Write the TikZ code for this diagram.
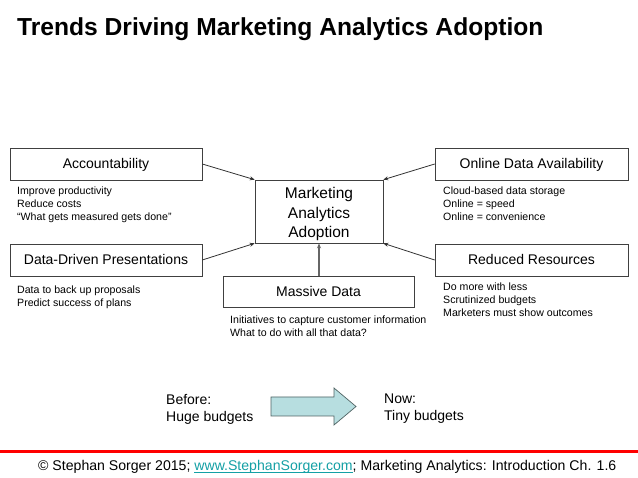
\documentclass[tikz,border=0pt]{standalone}
\usepackage{fontspec}
\setmainfont{Liberation Sans}
\usetikzlibrary{arrows.meta}
\definecolor{linkc}{RGB}{20,160,165}
\definecolor{arrfill}{RGB}{183,222,224}
\definecolor{arrdraw}{RGB}{80,100,100}
\newlength{\myulw}
\newcommand{\myul}[1]{\settowidth{\myulw}{#1}\rlap{\rule[-2pt]{\myulw}{0.7pt}}#1}
\tikzset{
  tbox/.style={draw=black!75, line width=0.6pt, inner sep=0pt, font=\fontsize{14}{16}\selectfont},
  note/.style={anchor=north west, inner sep=0pt, align=left, font=\fontsize{10.6}{13}\selectfont},
  conn/.style={draw=black!80, line width=0.8pt, -{Stealth[length=5pt,width=4pt]}},
}
\begin{document}
\begin{tikzpicture}[x=1pt,y=-1pt]
\useasboundingbox[fill=white] (0,0) rectangle (638,478);
\node[anchor=west, inner sep=0pt, font=\fontsize{24.6}{28}\selectfont\bfseries] (title) at (17,29) {Trends Driving Marketing Analytics Adoption};
% boxes
\node[tbox, minimum width=192pt, minimum height=32pt, text depth=1pt] (acc) at (106,164) {Accountability};
\node[tbox, minimum width=193pt, minimum height=32pt, text depth=1pt] (oda) at (531.5,164) {Online Data Availability};
\node[tbox, minimum width=192pt, minimum height=32pt, text depth=1pt] (ddp) at (106,260) {Data-Driven Presentations};
\node[tbox, minimum width=193pt, minimum height=32pt, text depth=1pt] (rr) at (531.5,260) {Reduced Resources};
\node[tbox, minimum width=128pt, minimum height=63pt] (maa) at (319,211.5) {};
\node[inner sep=0pt, align=center, font=\fontsize{15.5}{19.5}\selectfont] (maat) at ([yshift=-2.5pt]maa.center) {Marketing\\Analytics\\Adoption};
\node[tbox, minimum width=191pt, minimum height=31pt, text depth=1pt] (md) at (318.5,292) {Massive Data};
% connectors
\draw[conn] (acc.east) -- (maa.north west);
\draw[conn] (ddp.east) -- (maa.south west);
\draw[conn] (oda.west) -- (maa.north east);
\draw[conn] (rr.west) -- (maa.south east);
\draw[conn, draw=black!60, line width=1.3pt] (md.north -| maa.south) -- (maa.south);
% notes
\node[note] (n1) at (17,186.5) {Improve productivity\\Reduce costs\\“What gets measured gets done”};
\node[note] (n2) at (17,285.5) {Data to back up proposals\\Predict success of plans};
\node[note] (n3) at (443,186.5) {Cloud-based data storage\\Online = speed\\Online = convenience};
\node[note] (n4) at (443,282.5) {Do more with less\\Scrutinized budgets\\Marketers must show outcomes};
\node[note] (n5) at (230,315.5) {Initiatives to capture customer information\\What to do with all that data?};
% before / now
\node[anchor=north west, inner sep=0pt, align=left, font=\fontsize{14}{17}\selectfont] (bef) at (166,394) {Before:\\Huge budgets};
\node[anchor=north west, inner sep=0pt, align=left, font=\fontsize{14}{17}\selectfont] (now) at (384,394) {Now:\\Tiny budgets};
\draw[fill=arrfill, draw=arrdraw, line width=0.7pt, line join=miter]
  (271,397) -- (334,397) -- (334,388) -- (356,406.5) -- (334,425) -- (334,416) -- (271,416) -- cycle;
% footer
\draw[red, line width=3pt] (0,451.5) -- (638,451.5);
\node[anchor=west, inner sep=0pt, font=\fontsize{14.1}{17}\selectfont] (foot) at (38,467) {© Stephan Sorger 2015; \textcolor{linkc}{\myul{www.StephanSorger.com}}; Marketing Analytics: Introduction Ch. 1.6};
\end{tikzpicture}
\end{document}
